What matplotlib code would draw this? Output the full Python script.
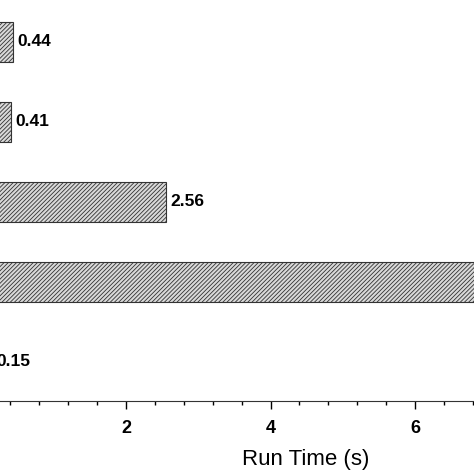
import matplotlib
matplotlib.use("Agg")
import matplotlib.pyplot as plt
from matplotlib.ticker import MultipleLocator, FixedLocator

plt.rcParams['font.family'] = ['Liberation Sans', 'DejaVu Sans']
plt.rcParams['hatch.color'] = '#555555'
plt.rcParams['hatch.linewidth'] = 0.6

values = [0.15, 7.6, 2.56, 0.41, 0.44]
labels = ['0.15', '', '2.56', '0.41', '0.44']
positions = [0, 1, 2, 3, 4]
major_ticks = [2, 4, 6]

fig = plt.figure(figsize=(4.74, 4.74), dpi=100)
W = 474
xmax = 8.0
ppu = 72.25
ax = fig.add_axes([-18.5 / W, 73 / W, xmax * ppu / W, (4.6 + 0.49) * 80 / W])
ax.barh(positions, values, height=0.5, color='#d9d9d9', edgecolor='#333333',
        linewidth=0.8, hatch='////////')
for p, v, t in zip(positions, values, labels):
    if t:
        ax.text(v + 0.06, p, t, va='center', ha='left', fontsize=12.5, fontweight='bold')
ax.set_xlim(0, xmax)
ax.set_ylim(-0.49, 4.6)
for s in ['top', 'right', 'left']:
    ax.spines[s].set_visible(False)
ax.spines['bottom'].set_color('#333333')
ax.set_yticks([])
ax.xaxis.set_major_locator(FixedLocator(major_ticks))
ax.xaxis.set_minor_locator(MultipleLocator(0.4))
ax.tick_params(axis='x', which='major', length=6, width=1, labelsize=13, pad=8)
ax.tick_params(axis='x', which='minor', length=3, width=1)
for lab in ax.get_xticklabels():
    lab.set_fontweight('bold')
fig.text(306 / W, 1 - 459 / W, 'Run Time (s)', ha='center', va='center', fontsize=16)
fig.savefig('out.png', dpi=100)
